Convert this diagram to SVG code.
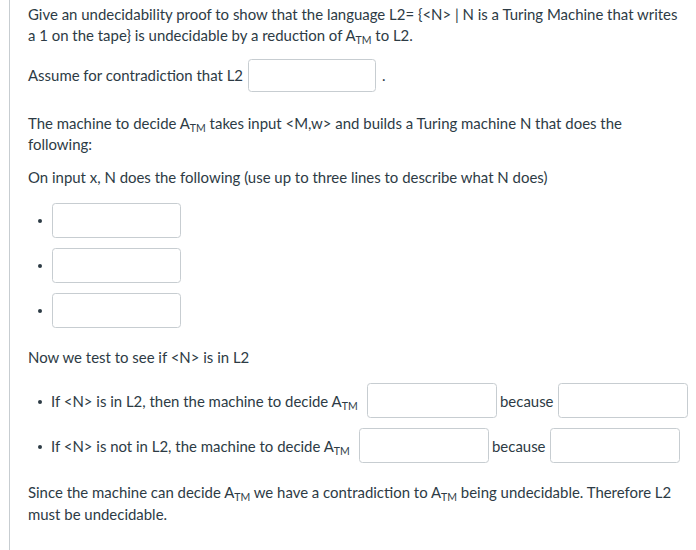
<svg xmlns="http://www.w3.org/2000/svg" width="696" height="550" viewBox="0 0 696 550">
<style>
text{font-family:Lato,"Liberation Sans",sans-serif;font-size:14.95px;fill:#2d3b45}
.s{font-size:10.5px}
.b{fill:#fff;stroke:#c7cdd1;stroke-width:1}
</style>
<rect width="696" height="550" fill="#fff"/>
<line x1="9.5" y1="0" x2="9.5" y2="550" stroke="#c7cdd1"/>
<text x="28" y="20">Give an undecidability proof to show that the language L2= {&lt;N&gt; | N is a Turing Machine that writes</text>
<text x="28" y="41">a 1 on the tape} is undecidable by a reduction of A<tspan class="s" dy="3">TM</tspan><tspan dy="-3"> to L2.</tspan></text>
<g id="q1"><text x="28" y="81">Assume for contradiction that L2</text><rect class="b" x="248.5" y="59.5" width="127" height="32" rx="3"/><text x="382" y="81">.</text></g>
<text x="28" y="129">The machine to decide A<tspan class="s" dy="3">TM</tspan><tspan dy="-3"> takes input &lt;M,w&gt; and builds a Turing machine N that does the</tspan></text>
<text x="28" y="150">following:</text>
<text x="28" y="183">On input x, N does the following (use up to three lines to describe what N does)</text>
<g id="l1"><circle cx="40" cy="221" r="2" fill="#2d3b45"/><rect class="b" x="52.5" y="203.5" width="128" height="34" rx="3"/></g>
<g id="l2"><circle cx="40" cy="266" r="2" fill="#2d3b45"/><rect class="b" x="52.5" y="248.5" width="128" height="34" rx="3"/></g>
<g id="l3"><circle cx="40" cy="311" r="2" fill="#2d3b45"/><rect class="b" x="52.5" y="293.5" width="128" height="34" rx="3"/></g>
<text x="28" y="363">Now we test to see if &lt;N&gt; is in L2</text>
<g id="r1"><circle cx="40" cy="402" r="2" fill="#2d3b45"/><text x="51" y="407">If &lt;N&gt; is in L2, then the machine to decide A<tspan class="s" dy="3">TM</tspan></text>
<rect class="b" x="367.5" y="383.5" width="129" height="34" rx="3"/><text x="500" y="407">because</text><rect class="b" x="558.5" y="383.5" width="129" height="34" rx="3"/></g>
<g id="r2"><circle cx="40" cy="447" r="2" fill="#2d3b45"/><text x="51" y="452">If &lt;N&gt; is not in L2, the machine to decide A<tspan class="s" dy="3">TM</tspan></text>
<rect class="b" x="359.5" y="428.5" width="129" height="34" rx="3"/><text x="492" y="452">because</text><rect class="b" x="550.5" y="428.5" width="129" height="34" rx="3"/></g>
<text x="28" y="498">Since the machine can decide A<tspan class="s" dy="3">TM</tspan><tspan dy="-3"> we have a contradiction to A</tspan><tspan class="s" dy="3">TM</tspan><tspan dy="-3"> being undecidable. Therefore L2</tspan></text>
<text x="28" y="520">must be undecidable.</text>
</svg>
